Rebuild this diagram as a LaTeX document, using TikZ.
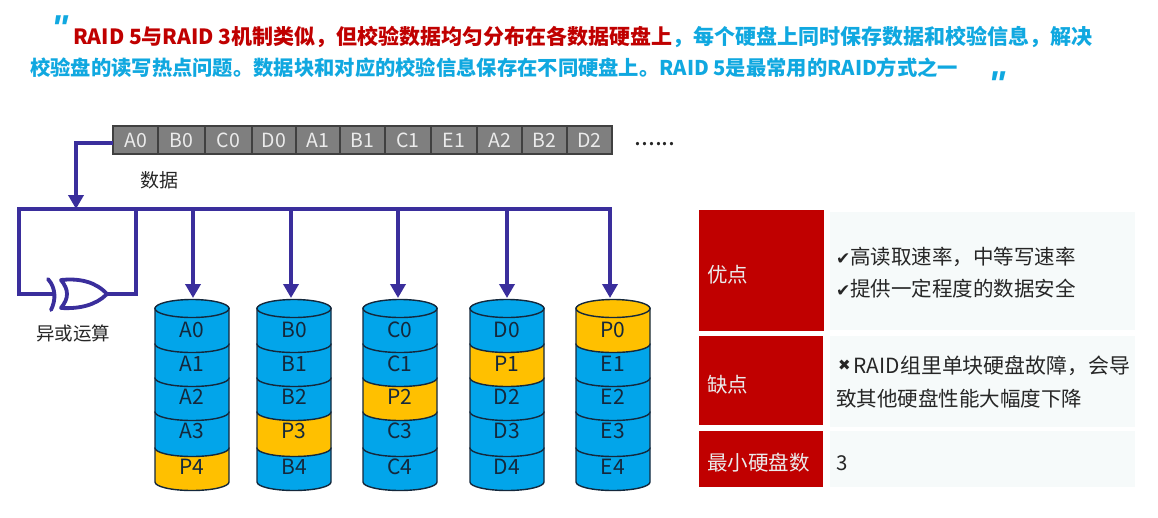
\documentclass[tikz,border=0pt]{standalone}
\usepackage{fontspec}
\usetikzlibrary{arrows.meta}
\setmainfont{Noto Sans CJK SC}
\newfontfamily\symfont{DejaVu Sans}
\newfontfamily\quotefont{Liberation Sans}[ItalicFont={Liberation Sans Bold Italic}]
\newcommand{\fs}[1]{\fontsize{#1}{#1}\selectfont}
\definecolor{busblue}{HTML}{3A2E9C}
\definecolor{diskblue}{HTML}{02A5EA}
\definecolor{diskorange}{HTML}{FFC000}
\definecolor{diskline}{HTML}{14283C}
\definecolor{cellgrey}{HTML}{7F7F7F}
\definecolor{darkred}{HTML}{C00000}
\definecolor{titleblue}{HTML}{10A8E0}
\definecolor{panelbg}{HTML}{F6FAFA}
\tikzset{
  conn/.style={draw=busblue,line width=4.6pt,line join=miter},
  arrowconn/.style={conn,-{Triangle[length=14pt,width=15pt]}},
  cell/.style={draw=black!75,line width=1.1pt,fill=cellgrey,text=white!92!black,inner sep=0pt,font=\fs{19.5},minimum height=28pt},
  redcell/.style={fill=darkred,text=white!92!black,inner sep=0pt,font=\fs{20.5},anchor=west},
  label/.style={inner sep=0pt,anchor=base west,text=black!85,font=\fs{20.5}},
  disklabel/.style={inner sep=0pt,text=diskline,font=\fs{21}},
  titletext/.style={inner sep=0pt,anchor=base west,font=\bfseries\fs{21}},
  quotemark/.style={inner sep=0pt,text=titleblue,font=\quotefont\itshape\fs{36}},
}
% \disksec{name}{cx}{ytop}{ybot}{colour}{text}{ytext}
\newcommand{\disksec}[7]{%
  \fill[#5,draw=diskline,line width=1.4pt]
    (#2-37,#3) -- (#2-37,#4) arc[start angle=180,end angle=360,x radius=37,y radius=-8.5]
    -- (#2+37,#3) -- cycle;
  \node[disklabel] (#1) at (#2,#7) {#6};
}
\newcommand{\disktop}[2]{%
  \filldraw[diskblue,draw=diskline,line width=1.4pt] (#2,308.5) ellipse[x radius=37,y radius=9];
  \coordinate (#1) at (#2,298);
}
\begin{document}
\begin{tikzpicture}[x=1pt,y=-1pt]
\useasboundingbox (0,0) rectangle (1158,517);
\fill[white] (0,0) rectangle (1158,517);

% title
\node[quotemark,anchor=center] (q1) at (60,28) {"};
\node[quotemark,anchor=center] (q2) at (997,84) {"};
\node[titletext] (t1) at (73,44) {\textcolor{darkred}{RAID 5与RAID 3机制类似，但校验数据均匀分布在各数据硬盘上}\textcolor{titleblue}{，每个硬盘上同时保存数据和校验信息，解决}};
\node[titletext,text=titleblue,font=\bfseries\fs{20.3}] (t2) at (30,75) {校验盘的读写热点问题。数据块和对应的校验信息保存在不同硬盘上。RAID 5是最常用的RAID方式之一};

% data strip
\foreach \nm/\xa/\xb/\tx in {c1/113/158/A0,c2/158/205/B0,c3/205/252/C0,c4/252/296/D0,c5/296/340/A1,c6/340/385/B1,c7/385/431/C1,c8/431/477/E1,c9/477/522/A2,c10/522/567/B2,c11/567/612/D2}{
  \pgfmathsetmacro{\cw}{\xb-\xa}
  \pgfmathsetmacro{\cx}{(\xa+\xb)/2}
  \node[cell,minimum width=\cw pt] (\nm) at (\cx,140) {\tx};
}
\node[inner sep=0pt,font=\fs{25},text=black!85] (dots) at (655,144) {......};
\node[inner sep=0pt,font=\fs{19},text=black!85] (datalabel) at (159,180) {数据};
\node[inner sep=0pt,font=\fs{18.5},text=black!85] (xorlabel) at (73,333) {异或运算};

% bus coordinates
\coordinate (stripout) at (113,143);
\coordinate (busin) at (76,209);
\coordinate (busleft) at (19,209);
\coordinate (busright) at (612,209);
\coordinate (loopr) at (136,209);
\coordinate (gatein) at (55,294);
\coordinate (gateout) at (107,294);

% bus
\draw[conn] (gatein) -- (19,294) -- (busleft) -- (busright);
\draw[conn] (loopr) -- (136,294) -- (gateout);
\draw[arrowconn] (stripout) -- (76,143) -- (busin);

% xor gate
\draw[draw=busblue,line width=3.8pt,line cap=round] (48,279) .. controls (56,288) and (56,300) .. (51,310);
\draw[draw=busblue,line width=3.8pt,line join=round,fill=white]
  (61,280) .. controls (80,278) and (96,282) .. (107,294)
  .. controls (96,305) and (80,309) .. (61,308)
  .. controls (69,298) and (69,290) .. (61,280) -- cycle;

% disks
\foreach \dn/\cx/\ca/\cb/\cc/\cd/\ce/\ta/\tb/\tc/\td/\te in {
  a/192/diskblue/diskblue/diskblue/diskblue/diskorange/A0/A1/A2/A3/P4,
  b/294/diskblue/diskblue/diskblue/diskorange/diskblue/B0/B1/B2/P3/B4,
  c/400/diskblue/diskblue/diskorange/diskblue/diskblue/C0/C1/P2/C3/C4,
  d/507/diskblue/diskorange/diskblue/diskblue/diskblue/D0/P1/D2/D3/D4,
  e/613/diskorange/diskblue/diskblue/diskblue/diskblue/P0/E1/E2/E3/E4}{
  \disksec{\dn5}{\cx}{448}{482}{\ce}{\te}{467}
  \disksec{\dn4}{\cx}{412}{448}{\cd}{\td}{431}
  \disksec{\dn3}{\cx}{378}{412}{\cc}{\tc}{397}
  \disksec{\dn2}{\cx}{344}{378}{\cb}{\tb}{364}
  \disksec{\dn1}{\cx}{308}{344}{\ca}{\ta}{330}
}
% top ellipses with the colour of the first section
\disktop{atop}{192}
\disktop{btop}{294}
\disktop{ctop}{400}
\disktop{dtop}{507}
\filldraw[diskorange,draw=diskline,line width=1.4pt] (613,308.5) ellipse[x radius=37,y radius=9];
\coordinate (etop) at (610,298);
\coordinate (bus1) at (193,209);
\coordinate (bus2) at (291,209);
\coordinate (bus3) at (398,209);
\coordinate (bus4) at (507,209);
\coordinate (bus5) at (610,209);
\coordinate (t1a) at (193,298);
\coordinate (t2a) at (291,298);
\coordinate (t3a) at (398,298);
\coordinate (t4a) at (507,298);
\foreach \i/\tp in {bus1/t1a,bus2/t2a,bus3/t3a,bus4/t4a,bus5/etop}{
  \draw[arrowconn] (\i) -- (\tp);
}

% table
\fill[panelbg] (830,212) rectangle (1135,330);
\fill[panelbg] (830,336) rectangle (1135,427);
\fill[panelbg] (830,431) rectangle (1135,487);
\fill[darkred] (699,210) rectangle (824,331);
\fill[darkred] (699,336) rectangle (823,425);
\fill[darkred] (699,431) rectangle (823,487);
\node[redcell] (adv) at (707,275) {优点};
\node[redcell] (dis) at (707,385) {缺点};
\node[redcell] (min) at (707,463) {最小硬盘数};
\node[label] (a1) at (836,264) {{\symfont\fs{17}✔}高读取速率，中等写速率};
\node[label] (a2) at (836,296) {{\symfont\fs{17}✔}提供一定程度的数据安全};
\node[label,font=\fs{20.9}] (d1) at (838,373) {\raisebox{3pt}{\symfont\fs{15}✖}\kern3pt RAID组里单块硬盘故障，会导};
\node[label] (d2) at (836,406) {致其他硬盘性能大幅度下降};
\node[label] (m1) at (836,470) {3};
\end{tikzpicture}
\end{document}
